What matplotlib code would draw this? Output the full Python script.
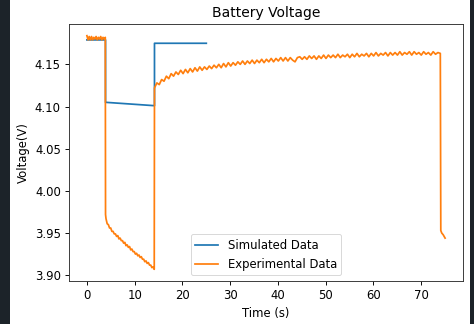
import numpy as np
import matplotlib
matplotlib.use("Agg")
import matplotlib.pyplot as plt
from matplotlib.patches import Rectangle

# ---------------- data ----------------
title = "Battery Voltage"
x_label = "Time (s)"
y_label = "Voltage(V)"
legend_labels = ["Simulated Data", "Experimental Data"]

# Simulated data (piecewise)
sim_t = [0.0, 3.9, 3.9, 14.15, 14.15, 25.0]
sim_v = [4.179, 4.179, 4.105, 4.101, 4.175, 4.175]

# Experimental data, segment bounds (s)
rest1_span = (0.0, 3.85)
rest1_v = [4.184, 4.179, 4.183, 4.179, 4.183, 4.179, 4.182, 4.180, 4.183,
           4.179, 4.182, 4.180, 4.183, 4.179, 4.182, 4.180, 4.182]

drop_t = [3.9]
drop_v = [3.972]

discharge_span = (4.0, 14.1)
discharge_v = [3.967, 3.961, 3.960, 3.956, 3.956, 3.952, 3.952, 3.949, 3.949,
               3.946, 3.947, 3.943, 3.944, 3.941, 3.941, 3.938, 3.939, 3.935,
               3.936, 3.933, 3.934, 3.930, 3.931, 3.928, 3.928, 3.925, 3.926,
               3.923, 3.924, 3.921, 3.922, 3.919, 3.919, 3.916, 3.917, 3.914,
               3.915, 3.912, 3.912, 3.909, 3.910, 3.907]

recovery_span = (14.15, 74.0)
recovery_v = [4.122, 4.128, 4.126, 4.132, 4.130, 4.136, 4.133, 4.139, 4.136, 4.141,
              4.138, 4.143, 4.139, 4.144, 4.140, 4.145, 4.141, 4.146, 4.142, 4.147,
              4.143, 4.147, 4.144, 4.148, 4.145, 4.149, 4.146, 4.150, 4.146, 4.151,
              4.147, 4.152, 4.148, 4.152, 4.149, 4.153, 4.150, 4.154, 4.150, 4.154,
              4.151, 4.155, 4.151, 4.155, 4.152, 4.156, 4.152, 4.156, 4.153, 4.157,
              4.153, 4.157, 4.154, 4.158, 4.154, 4.158, 4.154, 4.158, 4.155, 4.153,
              4.158, 4.159, 4.156, 4.159, 4.156, 4.160, 4.157, 4.160, 4.156, 4.160,
              4.157, 4.161, 4.157, 4.161, 4.158, 4.161, 4.158, 4.162, 4.158, 4.161,
              4.159, 4.162, 4.158, 4.162, 4.159, 4.163, 4.159, 4.162, 4.160, 4.163,
              4.159, 4.163, 4.160, 4.164, 4.160, 4.163, 4.161, 4.164, 4.160, 4.164,
              4.161, 4.164, 4.161, 4.165, 4.161, 4.164, 4.162, 4.165, 4.161, 4.165,
              4.162, 4.164, 4.161, 4.165, 4.162, 4.164, 4.161, 4.165, 4.162, 4.164,
              4.163]

tail_t = [74.1, 74.3, 74.6, 74.8, 75.0]
tail_v = [3.953, 3.950, 3.948, 3.946, 3.944]

# ---------------- assemble ----------------
exp_t = np.concatenate([
    np.linspace(*rest1_span, len(rest1_v)),
    drop_t,
    np.linspace(*discharge_span, len(discharge_v)),
    np.linspace(*recovery_span, len(recovery_v)),
    tail_t,
])
exp_v = np.concatenate([rest1_v, drop_v, discharge_v, recovery_v, tail_v])

# ---------------- figure ----------------
W, H, DPI = 474, 324, 100
fig = plt.figure(figsize=(W / DPI, H / DPI), dpi=DPI, facecolor="#1c2329")
bg = Rectangle((10 / W, 0), 460 / W, 1, transform=fig.transFigure,
               facecolor="white", edgecolor="none", zorder=-10)
fig.add_artist(bg)

ax = fig.add_axes([69 / W, 43 / H, (463 - 69) / W, (281 - 24) / H])
s = 0.833
ax.plot(sim_t, sim_v, color="#1f77b4", lw=1.5 * s, label=legend_labels[0])
ax.plot(exp_t, exp_v, color="#ff7f0e", lw=1.5 * s, label=legend_labels[1])

ax.set_title(title, fontsize=12 * s, pad=6 * s)
ax.set_xlabel(x_label, fontsize=10 * s, labelpad=4 * s)
ax.set_ylabel(y_label, fontsize=10 * s, labelpad=4 * s)
ax.set_xticks([0, 10, 20, 30, 40, 50, 60, 70])
ax.set_yticks([3.90, 3.95, 4.00, 4.05, 4.10, 4.15])
ax.tick_params(labelsize=10 * s, length=3.5 * s, width=0.8 * s, pad=3.5 * s)
for sp in ax.spines.values():
    sp.set_linewidth(0.8 * s)
    sp.set_color("#333333")

leg = ax.legend(loc="lower center", fontsize=10 * s)
leg.get_frame().set_linewidth(0.8 * s)

fig.savefig("out.png", dpi=DPI, facecolor=fig.get_facecolor())
